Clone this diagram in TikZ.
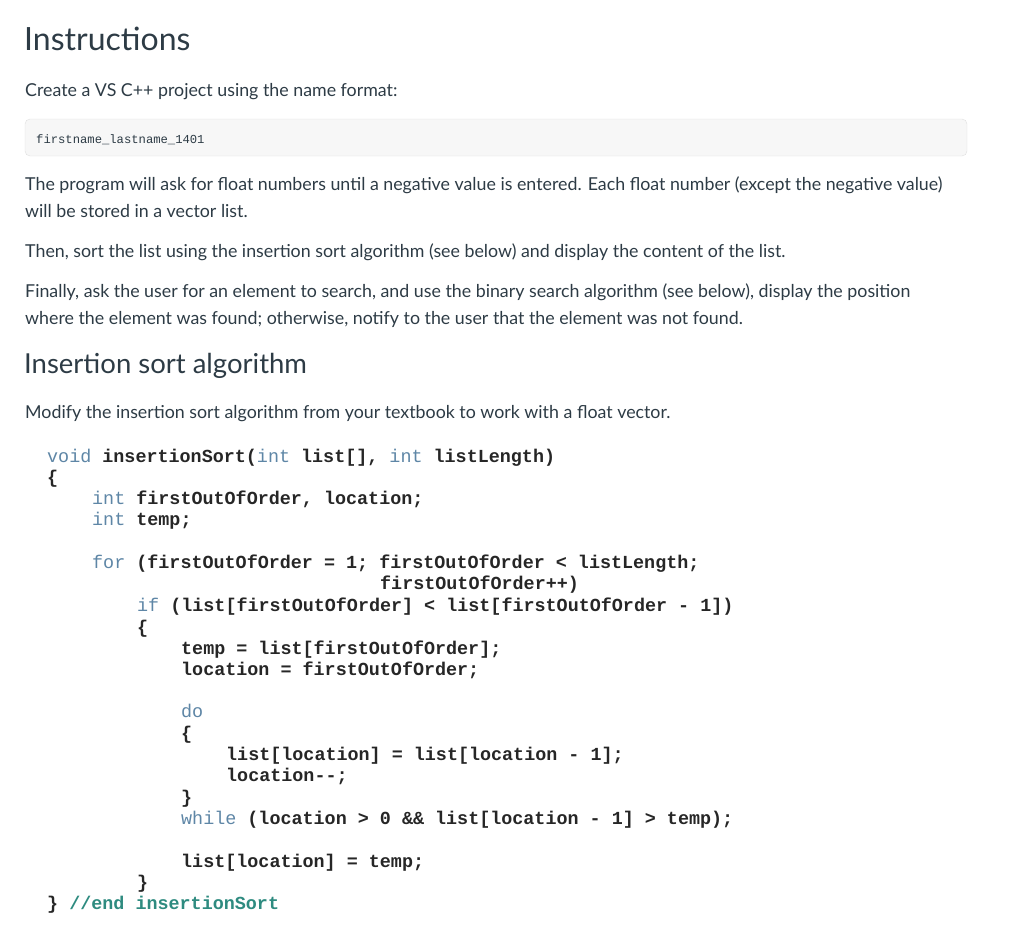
\documentclass[tikz,border=0pt]{standalone}
\usepackage{fontspec}
\setmainfont{Lato}
\newfontfamily\codefont{Liberation Mono}
\newfontfamily\boxfont{Liberation Mono}
\usetikzlibrary{positioning}
\definecolor{kwcol}{HTML}{5E86A6}
\definecolor{cmtcol}{HTML}{2E8B80}
\definecolor{txtcol}{HTML}{2D3B45}
\newcommand{\kw}[1]{{\fontseries{m}\selectfont\color{kwcol}#1}}
\newcommand{\cm}[1]{{\color{cmtcol}#1}}

\begin{document}
\begin{tikzpicture}[x=1pt,y=-1pt,
            every node/.append style = {anchor = base west, inner sep = 0pt, text = txtcol},
            body/.style = {font = \fontsize{17.8}{27}\selectfont},
            head/.style = {font = \fontsize{32}{36}\selectfont},
            code/.style = {font = \codefont\bfseries\fontsize{18.4}{21}\selectfont, text = black!85}]
            \useasboundingbox (0,0) rectangle (1024,939);
            \node[head] (title) at (24,51) {Instructions};
            \node[body] (intro) at (25,97) {Create a VS C++ project using the name format:};
            \draw[rounded corners = 5pt, fill = gray!6, draw = gray!25] (25,119) rectangle (967,156);
            \node[font = \boxfont\fontsize{12.2}{14}\selectfont] (projname) at (36,143) {firstname\_lastname\_1401};
            \node[body] (para1a) at (25,190) {The program will ask for float numbers until a negative value is entered. Each float number (except the negative value)};
            \node[body] (para1b) at (25,217) {will be stored in a vector list.};
            \node[body] (para2) at (25,257) {Then, sort the list using the insertion sort algorithm (see below) and display the content of the list.};
            \node[body] (para3a) at (25,297) {Finally, ask the user for an element to search, and use the binary search algorithm (see below), display the position};
            \node[body] (para3b) at (25,324) {where the element was found; otherwise, notify to the user that the element was not found.};
            \node[head, font = \fontsize{27.5}{30}\selectfont] (subtitle) at (24,373) {Insertion sort algorithm};
            \node[body] (modify) at (25,418) {Modify the insertion sort algorithm from your textbook to work with a float vector.};
            % code listing
            \node[code] (c1) at (47,462) {\kw{void} insertionSort(\kw{int} list[], \kw{int} listLength)};
            \node[code] (c2) at (47,483) {\{};
            \node[code] (c3) at (92,504) {\kw{int} firstOutOfOrder, location;};
            \node[code] (c4) at (92,525) {\kw{int} temp;};
            \node[code] (c5) at (92,568) {\kw{for} (firstOutOfOrder = 1; firstOutOfOrder < listLength;};
            \node[code] (c6) at (380,589) {firstOutOfOrder++)};
            \node[code] (c7) at (137,611) {\kw{if} (list[firstOutOfOrder] < list[firstOutOfOrder - 1])};
            \node[code] (c8) at (137,633) {\{};
            \node[code] (c9) at (181,654) {temp = list[firstOutOfOrder];};
            \node[code] (c10) at (181,675) {location = firstOutOfOrder;};
            \node[code] (c11) at (181,717) {\kw{do}};
            \node[code] (c12) at (181,739) {\{};
            \node[code] (c13) at (226,760) {list[location] = list[location - 1];};
            \node[code] (c14) at (226,781) {location--;};
            \node[code] (c15) at (181,803) {\}};
            \node[code] (c16) at (181,824) {\kw{while} (location > 0 \&\& list[location - 1] > temp);};
            \node[code] (c17) at (181,867) {list[location] = temp;};
            \node[code] (c18) at (137,888) {\}};
            \node[code] (c19) at (47,909) {\} \cm{//end insertionSort}};
        \end{tikzpicture}
\end{document}
